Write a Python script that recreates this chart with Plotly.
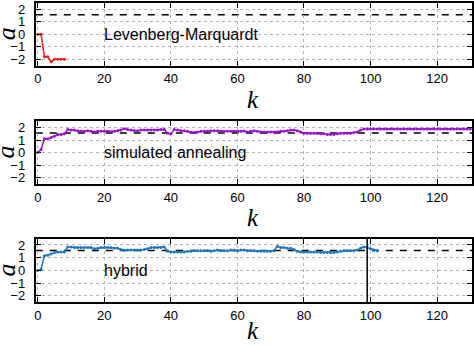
import plotly.graph_objects as go

# ---------------- data ----------------
TRUE_A = 1.57
SWITCH_K = 99

lm_k = [0, 1, 2, 3, 4, 5, 6, 7, 8]
lm_a = [0.0, 0.0, -1.8, -1.8, -2.2, -2.0, -2.0, -2.0, -2.0]

sa_a = [0.0, 0.25, 1.1, 1.1, 1.2, 1.3, 1.45, 1.45, 1.5, 1.85,
        1.8, 1.8, 1.75, 1.7, 1.7, 1.75, 1.7, 1.65, 1.7, 1.7,
        1.7, 1.7, 1.65, 1.7, 1.75, 1.8, 1.9, 1.85, 1.8, 1.75,
        1.75, 1.8, 1.8, 1.8, 1.8, 1.8, 1.8, 1.85, 1.85, 1.55,
        1.5, 1.85, 1.8, 1.75, 1.75, 1.7, 1.6, 1.6, 1.65, 1.7,
        1.7, 1.7, 1.75, 1.75, 1.75, 1.7, 1.7, 1.7, 1.7, 1.7,
        1.7, 1.7, 1.72, 1.65, 1.7, 1.75, 1.7, 1.65, 1.65, 1.65,
        1.65, 1.65, 1.65, 1.7, 1.7, 1.75, 1.8, 1.8, 1.75, 1.65,
        1.55, 1.55, 1.55, 1.55, 1.55, 1.5, 1.5, 1.45, 1.45, 1.45,
        1.5, 1.55, 1.55, 1.55, 1.55, 1.6, 1.65, 1.8, 1.88, 1.88,
        1.88, 1.88, 1.88, 1.88, 1.88, 1.88, 1.88, 1.88, 1.88, 1.88,
        1.88, 1.88, 1.88, 1.88, 1.88, 1.88, 1.88, 1.88, 1.88, 1.88,
        1.88, 1.88, 1.88, 1.88, 1.88, 1.88, 1.88, 1.88, 1.88, 1.88,
        1.88]
sa_k = list(range(len(sa_a)))

hy_a = [0.0, 0.1, 1.15, 1.2, 1.3, 1.4, 1.45, 1.45, 1.45, 1.85,
        1.85, 1.8, 1.8, 1.8, 1.8, 1.8, 1.8, 1.7, 1.75, 1.8,
        1.8, 1.8, 1.8, 1.75, 1.75, 1.65, 1.6, 1.6, 1.6, 1.6,
        1.6, 1.6, 1.65, 1.7, 1.8, 1.8, 1.8, 1.8, 1.85, 1.5,
        1.45, 1.45, 1.45, 1.45, 1.45, 1.5, 1.5, 1.55, 1.55, 1.55,
        1.55, 1.55, 1.5, 1.55, 1.6, 1.55, 1.55, 1.55, 1.6, 1.6,
        1.55, 1.6, 1.6, 1.55, 1.55, 1.55, 1.5, 1.5, 1.5, 1.5,
        1.5, 1.55, 1.9, 1.8, 1.8, 1.75, 1.75, 1.65, 1.5, 1.45,
        1.45, 1.45, 1.45, 1.45, 1.45, 1.4, 1.4, 1.4, 1.4, 1.4,
        1.45, 1.5, 1.55, 1.55, 1.55, 1.55, 1.6, 1.75, 1.85, 1.8,
        1.7, 1.6, 1.55]
hy_k = list(range(len(hy_a)))

panel_labels = ["Levenberg-Marquardt", "simulated annealing", "hybrid"]
x_ticks = [0, 20, 40, 60, 80, 100, 120]
y_ticks = [-2, -1, 0, 1, 2]

series = [(lm_k, lm_a, "#e3241b"), (sa_k, sa_a, "#9a0fd0"), (hy_k, hy_a, "#1f77b8")]

# ---------------- layout geometry ----------------
W, H = 474, 346
panels_px = [(2, 65), (121, 184), (239, 303)]  # top, bottom in pixels
x_dom = [34 / W, 473 / W]

fig = go.Figure()
sans = "Liberation Sans, Arial, sans-serif"
serif = "Liberation Serif, Times New Roman, serif"
KSIZE = 25

for i, ((ks, vals, col), (top, bot)) in enumerate(zip(series, panels_px)):
    n = "" if i == 0 else str(i + 1)
    xa, ya = "x" + n, "y" + n
    fig.add_trace(go.Scatter(
        x=ks, y=vals, mode="lines+markers", xaxis=xa, yaxis=ya,
        line=dict(color=col, width=1.5),
        marker=dict(color=col, size=3), showlegend=False))
    ydom = [1 - bot / H, 1 - top / H]
    common = dict(showline=True, linewidth=2, linecolor="black", mirror="ticks",
                  ticks="inside", ticklen=5, tickwidth=1, tickcolor="black",
                  showgrid=True, gridcolor="#b5b5b5", griddash="dot", gridwidth=1,
                  zeroline=False, tickfont=dict(family=sans, size=13, color="black"))
    fig.update_layout(**{
        "xaxis" + n: dict(domain=x_dom, range=[-0.6, 130.5], tickvals=x_ticks,
                          anchor=ya, **common),
        "yaxis" + n: dict(domain=ydom, range=[-2.5, 2.5], tickvals=y_ticks,
                          anchor=xa, ticklabelstandoff=6, **common),
    })
    # true value dashed line
    fig.add_shape(type="line", xref=xa + " domain", yref=ya, x0=0, x1=1,
                  y0=TRUE_A, y1=TRUE_A, layer="below",
                  line=dict(color="black", width=1.5, dash="7px,7px"))
    # method label
    fig.add_annotation(x=19.4, y=0, xref=xa, yref=ya, text=panel_labels[i],
                       showarrow=False, xanchor="left", yanchor="middle",
                       font=dict(family=sans, size=16, color="black"))
    # y axis title "a"
    fig.add_annotation(x=4 / W, y=1 - ((top + bot) / 2 - 1) / H, xref="paper",
                       yref="paper", text="<i>a</i>", showarrow=False,
                       xanchor="center", yanchor="middle",
                       textangle=-90, font=dict(family=serif, size=26, color="black"))
    # x axis title "k"
    kc = min(bot + 34, H - KSIZE * 0.6)
    fig.add_annotation(x=253 / W, y=1 - kc / H, xref="paper", yref="paper",
                       text="<i>k</i>", showarrow=False, xanchor="center",
                       yanchor="middle",
                       font=dict(family=serif, size=KSIZE, color="black"))

# switch point of the hybrid method
fig.add_shape(type="line", xref="x3", yref="y3 domain", x0=SWITCH_K, x1=SWITCH_K,
              y0=0, y1=1, line=dict(color="black", width=1.5))

fig.update_layout(width=W, height=H, margin=dict(l=0, r=0, t=0, b=0),
                  paper_bgcolor="white", plot_bgcolor="white")

fig.write_html("out.html")
